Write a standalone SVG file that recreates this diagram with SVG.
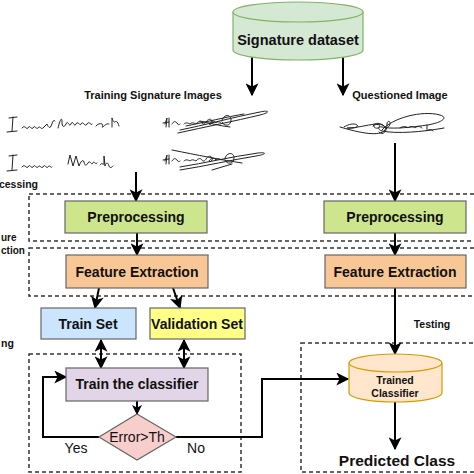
<svg xmlns="http://www.w3.org/2000/svg" width="474" height="474" viewBox="0 0 474 474">
<style>
.lbl{font-family:"Liberation Sans",Arial,sans-serif;font-weight:bold;fill:#111;text-anchor:middle}
.box{stroke:#666;stroke-width:1.2}
.dash{fill:none;stroke:#333;stroke-width:1.5;stroke-dasharray:4,3}
.conn{fill:none;stroke:#000;stroke-width:2}
.sig{fill:none;stroke:#222;stroke-width:1;stroke-linecap:round;stroke-linejoin:round}
</style>
<defs>
<marker id="ah" viewBox="0 0 10 10" refX="9" refY="5" markerWidth="7" markerHeight="6.5" orient="auto-start-reverse" markerUnits="strokeWidth">
<path d="M0,0 L10,5 L0,10 L2.5,5 z" fill="#000"/>
</marker>
<marker id="ahs" viewBox="0 0 10 10" refX="9" refY="5" markerWidth="5" markerHeight="5" orient="auto" markerUnits="strokeWidth">
<path d="M0,0 L10,5 L0,10 L2.5,5 z" fill="#000"/>
</marker>
</defs>
<rect width="474" height="474" fill="#fff"/>

<g id="groups">
<rect class="dash" x="29" y="194" width="460" height="47"/>
<rect class="dash" x="29" y="248" width="460" height="48"/>
<rect class="dash" x="29" y="354" width="212" height="118"/>
<rect class="dash" x="301" y="343" width="190" height="129"/>
<text class="lbl" x="38" y="188" font-size="10.5" style="text-anchor:end">cessing</text>
<text class="lbl" x="1" y="241" font-size="10" style="text-anchor:start">ure</text>
<text class="lbl" x="1" y="254" font-size="10" style="text-anchor:start">ction</text>
<text class="lbl" x="1" y="347" font-size="10.5" style="text-anchor:start">ng</text>
<text class="lbl" x="432" y="328" font-size="10.5">Testing</text>
</g>

<g id="signatures">
<text class="lbl" x="153" y="99" font-size="11">Training Signature Images</text>
<text class="lbl" x="400" y="99" font-size="11">Questioned Image</text>
<path class="sig" d="M9,118 L17,117 M13,117 L12,131 M7,132 L17,131 M22,128 c3,-4 4,2 6,0 c2,-4 3,2 5,0 c2,-4 3,2 5,0 c2,-3 3,2 5,0 l4,-4 c1,3 3,5 4,2 c2,-4 2,-7 4,-5 M58,128 c2,-8 4,-12 4,-6 c0,5 2,6 4,2 c2,-5 3,4 5,0 c2,-5 3,4 5,0 c2,-4 4,3 5,0 c2,-4 4,4 6,0 c2,-4 5,3 5,0 M96,126 c2,-2 4,-3 6,-2 c2,1 -1,4 1,3 c2,-2 4,-4 6,-3 M112,127 l0,-9 c0,-1 1,5 3,4 c2,-2 3,1 4,4"/>
<path class="sig" d="M9,156 L17,155 M13,155 L12,170 M7,171 L17,170 M22,167 c3,-4 4,2 6,0 c2,-4 3,2 5,0 c2,-4 3,2 5,0 c2,-3 3,2 5,0 c2,-4 3,2 5,0 c2,-3 3,2 4,0 M68,164 l2,-9 l3,11 l3,-10 l3,10 c2,-5 4,-7 5,-4 c1,4 2,4 4,1 c2,-4 3,3 5,0 c1,-3 3,3 4,0 M100,165 c2,-3 3,0 4,-1 l0,-8 l1,10 c1,-4 3,-4 4,0 c1,3 3,1 4,0"/>
<path class="sig" d="M165,124 l2,-6 l-1,9 M163,123 l6,-1 m0,-4 l0,9 m3,-3 c2,-3 3,-3 5,-1 c1,2 2,2 3,1 m4,0 c2,-2 4,-1 6,0 c2,-2 4,-1 6,0 c2,-3 5,-3 6,-1 c1,2 3,1 4,-1 c2,-3 5,-4 6,-1 c1,2 -2,5 -3,3 c2,-3 5,-4 7,-1 c2,-2 4,-1 5,0 M180,130 c25,-5 50,-12 80,-18 c8,-2 12,0 0,3 c-25,6 -55,12 -82,18 M186,126 c20,-4 40,-9 58,-12 M200,121 c10,2 20,5 30,6 M222,120 c2,-6 9,-6 9,0 c0,6 -7,7 -9,2"/>
<path class="sig" d="M165,161 l2,-6 l-1,9 M163,160 l6,-1 m0,-4 l0,9 m3,-3 c2,-3 3,-3 5,-1 c1,2 2,2 3,1 m4,0 c2,-2 4,-1 6,0 c2,-2 4,-1 6,0 c2,-3 5,-3 6,-1 c1,2 3,1 4,-1 c2,-3 5,-4 6,-1 c1,2 -2,5 -3,3 c2,-3 5,-4 7,-1 c2,-2 4,-1 5,0 M172,150 c25,5 50,10 70,13 M180,167 c25,-4 50,-10 78,-14 c8,-1 10,1 -2,3 c-25,4 -50,10 -76,14 M225,158 c2,-6 9,-6 9,0 c0,6 -7,7 -9,2 M212,170 l20,-6"/>
<path class="sig" d="M344,127 c5,-3 10,-4 13,-2 c3,2 -5,4 -10,3 c10,0 20,-3 28,-4 c5,0 6,3 3,4 c-3,1 -6,-2 -3,-4 c4,-2 8,1 10,3 c2,2 4,0 5,-3 c1,-3 -3,-4 -3,0 c0,8 -4,12 -8,8 M340,127 c20,6 40,10 45,3 c3,-5 -8,-8 -12,-4 M382,130 c10,-12 40,-20 58,-15 c10,3 0,9 -20,11 c-15,2 -30,3 -38,1 c-5,-1 -4,3 0,4 c15,3 40,1 62,-3 M400,128 c3,-2 6,-2 8,0 c2,-2 5,-2 7,0 c2,-2 5,-2 7,0 m5,-3 l0,6 c2,-2 4,-2 6,0"/>
</g>

<g id="connectors">
<line class="conn" x1="252" y1="57" x2="252" y2="95" marker-end="url(#ah)"/>
<line class="conn" x1="343" y1="57" x2="343" y2="95" marker-end="url(#ah)"/>
<line class="conn" x1="136" y1="172" x2="136" y2="201" marker-end="url(#ah)"/>
<line class="conn" x1="395" y1="143" x2="395" y2="201" marker-end="url(#ah)"/>
<line class="conn" x1="137" y1="233" x2="137" y2="255" marker-end="url(#ah)"/>
<line class="conn" x1="395" y1="233" x2="395" y2="255" marker-end="url(#ah)"/>
<line class="conn" x1="99" y1="288" x2="95" y2="308" marker-end="url(#ah)"/>
<line class="conn" x1="173" y1="288" x2="180" y2="308" marker-end="url(#ah)"/>
<line class="conn" x1="101" y1="340" x2="101" y2="368" marker-start="url(#ah)" marker-end="url(#ah)"/>
<line class="conn" x1="184" y1="340" x2="184" y2="368" marker-start="url(#ah)" marker-end="url(#ah)"/>
<line class="conn" x1="137" y1="401" x2="137" y2="414" stroke-width="1.5" marker-end="url(#ahs)"/>
<polyline class="conn" points="99,437 43,437 43,377 66,377" marker-end="url(#ah)"/>
<polyline class="conn" points="176,437 262,437 262,379 348,379" marker-end="url(#ah)"/>
<line class="conn" x1="395" y1="288" x2="395" y2="354" marker-end="url(#ah)"/>
<line class="conn" x1="395" y1="402" x2="395" y2="449" marker-end="url(#ah)"/>
<text class="lbl" x="76" y="453" font-size="14" style="font-weight:normal">Yes</text>
<text class="lbl" x="196" y="453" font-size="14" style="font-weight:normal">No</text>
</g>

<g id="dataset">
<path d="M233,12 L233,50 A65,10 0 0 0 363,50 L363,12" fill="#d5e8d4" stroke="#82b366" stroke-width="1.2"/>
<ellipse cx="298" cy="12" rx="65" ry="10" fill="#d5e8d4" stroke="#82b366" stroke-width="1.2"/>
<text class="lbl" x="298" y="45" font-size="14.5">Signature dataset</text>
</g>

<g id="preproc-train">
<rect class="box" x="65" y="201" width="142" height="32" fill="#cde68e"/>
<text class="lbl" x="136" y="222" font-size="14">Preprocessing</text>
</g>
<g id="preproc-test">
<rect class="box" x="324" y="201" width="142" height="32" fill="#cde68e"/>
<text class="lbl" x="395" y="222" font-size="14">Preprocessing</text>
</g>
<g id="feat-train">
<rect class="box" x="66" y="255" width="142" height="33" fill="#f9c795"/>
<text class="lbl" x="137" y="277" font-size="14">Feature Extraction</text>
</g>
<g id="feat-test">
<rect class="box" x="325" y="255" width="141" height="33" fill="#f9c795"/>
<text class="lbl" x="395" y="277" font-size="14">Feature Extraction</text>
</g>
<g id="trainset">
<rect class="box" x="41" y="308" width="95" height="31" fill="#cce5ff"/>
<text class="lbl" x="88" y="329" font-size="14">Train Set</text>
</g>
<g id="valset">
<rect class="box" x="150" y="308" width="95" height="31" fill="#ffff88"/>
<text class="lbl" x="197" y="329" font-size="14">Validation Set</text>
</g>
<g id="trainclf">
<rect class="box" x="66" y="368" width="142" height="33" fill="#e1d5e7"/>
<text class="lbl" x="137" y="389" font-size="14">Train the classifier</text>
</g>
<g id="error">
<polygon class="box" points="137,414 176,437 137,460 99,437" fill="#f8cecc"/>
<text class="lbl" x="137" y="442" font-size="14" style="font-weight:normal">Error&gt;Th</text>
</g>
<g id="trained">
<path d="M349,363 L349,393 A46.5,9 0 0 0 442,393 L442,363" fill="#ffe6cc" stroke="#d79b00" stroke-width="1.2"/>
<ellipse cx="395.5" cy="363" rx="46.5" ry="9" fill="#ffe6cc" stroke="#d79b00" stroke-width="1.2"/>
<text class="lbl" x="395" y="384" font-size="10.5">Trained</text>
<text class="lbl" x="395" y="397" font-size="10.5">Classifier</text>
</g>
<g id="predicted">
<text class="lbl" x="397" y="466" font-size="15.5">Predicted Class</text>
</g>
</svg>
